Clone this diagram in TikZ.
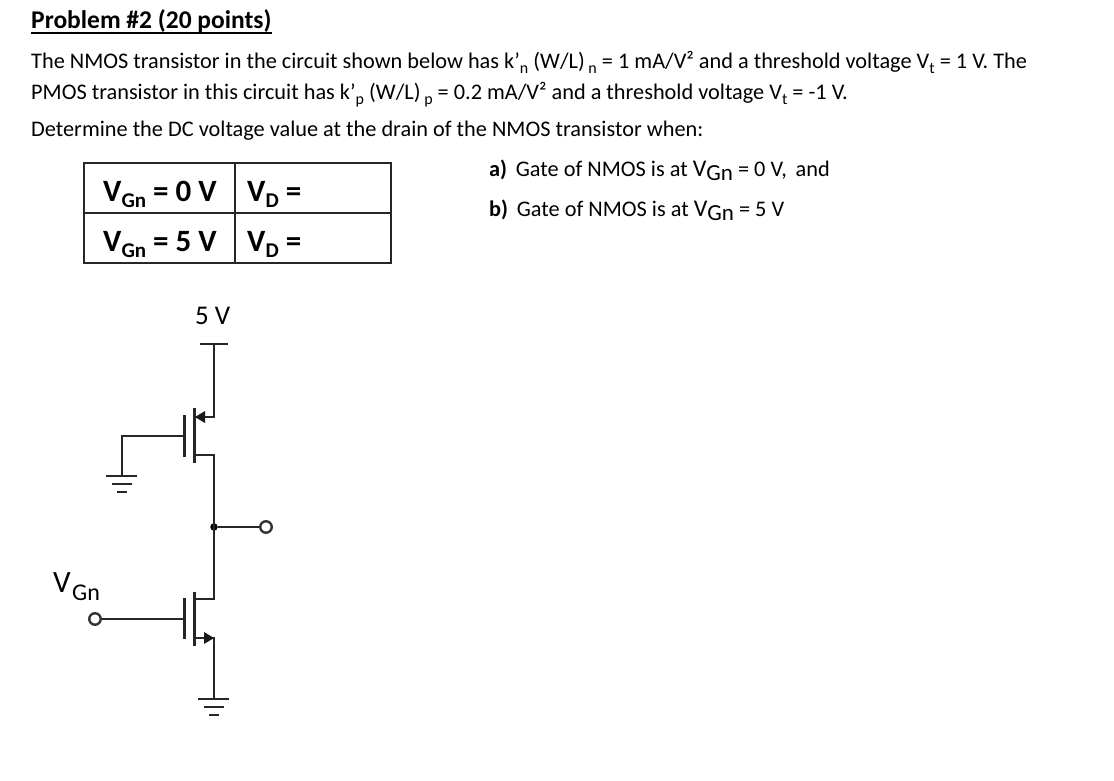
\documentclass[tikz,border=0pt]{standalone}
\usepackage{fontspec}
\setmainfont{Carlito}
\newcommand{\subd}[1]{\raisebox{-0.4ex}{\fontsize{16}{16}\selectfont #1}}
\newcommand{\subb}[1]{\raisebox{-0.4ex}{\fontsize{21}{21}\selectfont #1}}
\newcommand{\subc}[1]{\raisebox{-0.4ex}{\fontsize{23}{23}\selectfont #1}}
\tikzset{
 x=1pt,y=-1pt,
 txt/.style={anchor=base west,inner sep=0pt,font=\fontsize{22.3}{24}\selectfont},
 cell/.style={anchor=base west,inner sep=0pt,font=\fontsize{31}{32}\selectfont\bfseries},
 ans/.style={anchor=base west,inner sep=0pt,font=\fontsize{22.3}{24}\selectfont},
 wire/.style={line width=2.8pt,draw=black!85,line cap=butt,line join=miter},
 plate/.style={line width=3pt,draw=black!85},
 gline/.style={line width=2.9pt,draw=black!85},
 term/.style={circle,draw=black!80,line width=2.4pt,fill=white,minimum size=11.5pt,inner sep=0pt},
 dot/.style={circle,fill=black,minimum size=7.5pt,inner sep=0pt},
 frame/.style={line width=1.5pt,draw=black!85},
 rulebar/.style={line width=2pt,draw=black},
 tip/.style={fill=black!90}
}
\begin{document}
\begin{tikzpicture}
\useasboundingbox (0,0) rectangle (1114,781);
\fill[white] (0,0) rectangle (1114,781);
% text
\node[txt,font=\fontsize{25.5}{26}\selectfont\bfseries] (title) at (31,29) {Problem \#2 (20 points)};
\draw[rulebar] ([yshift=-4pt]title.base west) -- ([yshift=-4pt]title.base east);
\node[txt] (l1) at (31,69) {The NMOS transistor in the circuit shown below has k’\subd{n} (W/L)\,\subd{n} = 1 mA/V² and a threshold voltage V\subd{t} = 1 V. The};
\node[txt] (l2) at (31,100) {PMOS transistor in this circuit has k’\subd{p} (W/L)\,\subd{p} = 0.2 mA/V² and a threshold voltage V\subd{t} = -1 V.};
\node[txt] (l3) at (31,137) {Determine the DC voltage value at the drain of the NMOS transistor when:};
\node[ans] (a) at (489,176) {\textbf{a)}\, Gate of NMOS is at {\fontsize{24}{24}\selectfont V}\subc{Gn} = 0 V,\, and};
\node[ans] (b) at (489,216) {\textbf{b)}\, Gate of NMOS is at {\fontsize{24}{24}\selectfont V}\subc{Gn} = 5 V};
% table
\draw[frame] (84,163) rectangle (391,263);
\draw[frame] (84,213) -- (391,213);
\draw[frame] (235,163) -- (235,263);
\node[cell] (t1) at (103,201) {V\subb{Gn} = 0 V};
\node[cell] (t2) at (103,251) {V\subb{Gn} = 5 V};
\node[cell] (t3) at (247,201) {V\subb{D} =};
\node[cell] (t4) at (247,251) {V\subb{D} =};
% labels
\node[txt,font=\fontsize{27}{28}\selectfont] (vdd) at (195,324) {5 V};
\node[txt,font=\fontsize{31}{32}\selectfont] (vgn) at (53,592) {V};
\node[txt,font=\fontsize{24}{26}\selectfont] (gn) at (72,600) {Gn};
% coordinates
\coordinate (rail) at (214,344);
\coordinate (railL) at (200,344);
\coordinate (railR) at (228,344);
\coordinate (ps) at (214,417);
\coordinate (psc) at (194,417);
\coordinate (pd) at (214,455);
\coordinate (pdc) at (194,455);
\coordinate (pct) at (194,408);
\coordinate (pcb) at (194,463);
\coordinate (pgt) at (184,415);
\coordinate (pgb) at (184,457);
\coordinate (pg) at (184,436);
\coordinate (pcorner) at (122,436);
\coordinate (g1) at (122,476);
\coordinate (nd) at (214,599);
\coordinate (ndc) at (194,599);
\coordinate (ns) at (214,638);
\coordinate (nsc) at (194,638);
\coordinate (nct) at (194,592);
\coordinate (ncb) at (194,646);
\coordinate (ngt) at (184,598);
\coordinate (ngb) at (184,639);
\coordinate (ng) at (184,619);
\coordinate (g2) at (214,699);
% nodes
\node[dot] (jn) at (214,527) {};
\node[term] (out) at (266,527) {};
\node[term] (in) at (95,619) {};
% wires
\draw[wire] (railL) -- (railR);
\draw[wire] (rail) -- (ps) -- (psc);
\draw[wire] (pdc) -- (pd) -- (nd) -- (ndc);
\draw[wire] (jn) -- (out);
\draw[wire] (pg) -- (pcorner) -- (g1);
\draw[wire] (in) -- (ng);
\draw[wire] (nsc) -- (ns) -- (g2);
\draw[plate] (pct) -- (pcb);
\draw[plate] (pgt) -- (pgb);
\draw[plate] (nct) -- (ncb);
\draw[plate] (ngt) -- (ngb);
% arrow tips
\fill[tip] (195,417) -- (205,411) -- (205,423) -- cycle;
\fill[tip] (214,638) -- (204,632) -- (204,644) -- cycle;
% grounds
\draw[gline] (106,476) -- (137,476);
\draw[gline] (112,484) -- (132,484);
\draw[gline] (117,492) -- (127,492);
\draw[gline] (198,699) -- (229,699);
\draw[gline] (204,707) -- (224,707);
\draw[gline] (209,715) -- (219,715);
\end{tikzpicture}
\end{document}
